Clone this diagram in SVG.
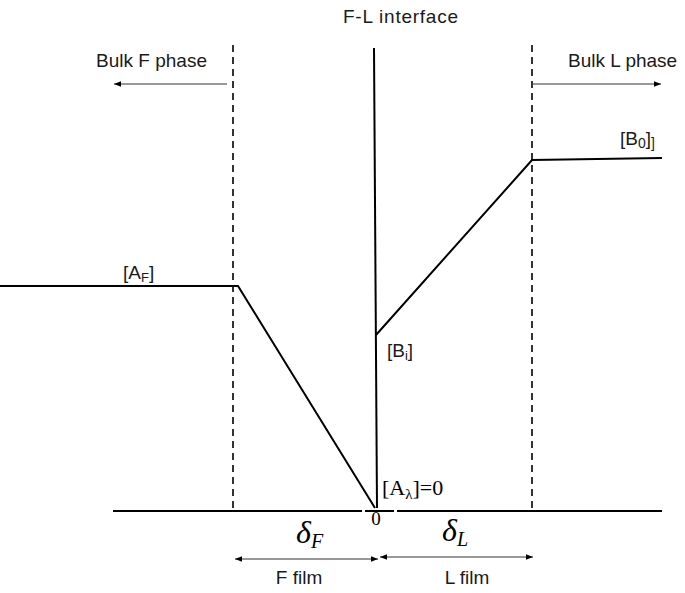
<svg xmlns="http://www.w3.org/2000/svg" width="685" height="593" viewBox="0 0 685 593">
<defs>
<marker id="ah" viewBox="0 0 10 10" refX="10" refY="5" markerWidth="8" markerHeight="7" markerUnits="userSpaceOnUse" orient="auto-start-reverse"><path d="M0,1 L10,5 L0,9 Z" fill="#000"/></marker>
<style>
.s{font-family:"Liberation Sans",Arial,sans-serif;font-size:19px;fill:#1a1a1a}
.r{font-family:"Liberation Serif","Times New Roman",serif;fill:#000}
.ln{stroke:#000;stroke-width:2;fill:none}
.d{stroke:#000;stroke-width:1.6;stroke-dasharray:7,5;fill:none}
.a{stroke:#333;stroke-width:1;fill:none}
</style>
</defs>
<rect width="685" height="593" fill="#fff"/>
<g id="connectors">
<line class="d" x1="233" y1="45" x2="233" y2="511"/>
<line class="d" x1="532" y1="45" x2="532" y2="511"/>
<line class="ln" x1="374" y1="48" x2="377" y2="508"/>
<path class="ln" d="M113,511 H362 M365,511 H394 M397,511 H662"/>
<path class="ln" d="M0,286 H238 L375,508"/>
<path class="ln" d="M376,335 L532,160 L662,158"/>
<line class="a" x1="227" y1="84" x2="114" y2="84" marker-end="url(#ah)"/>
<line class="a" x1="533" y1="84" x2="661" y2="84" marker-end="url(#ah)"/>
<line class="a" x1="235" y1="559" x2="378" y2="559" marker-start="url(#ah)" marker-end="url(#ah)"/>
<line class="a" x1="380" y1="557" x2="533" y2="557" marker-start="url(#ah)" marker-end="url(#ah)"/>
</g>
<g id="title"><text class="s" x="343" y="23" textLength="115">F-L interface</text></g>
<g id="bulkF"><text class="s" x="207" y="67" text-anchor="end">Bulk F phase</text></g>
<g id="bulkL"><text class="s" x="568" y="67">Bulk L phase</text></g>
<g id="AF"><text class="s" x="123" y="279">[A<tspan font-size="13" dy="3">F</tspan><tspan dy="-3">]</tspan></text></g>
<g id="Bi"><text class="s" x="387" y="357">[B<tspan font-size="13" dy="3">i</tspan><tspan dy="-3">]</tspan></text></g>
<g id="B0"><text class="s" x="620" y="145">[B<tspan font-size="14" dy="3">0</tspan><tspan dy="-3">]</tspan><tspan font-size="14" dy="3">]</tspan></text></g>
<g id="Alambda"><text class="r" x="382" y="495" font-size="22">[A<tspan font-size="15" dy="4">λ</tspan><tspan dy="-4">]=0</tspan></text></g>
<g id="zero"><text class="r" x="376" y="525" font-size="19" text-anchor="middle">0</text></g>
<g id="deltaF"><text class="r" x="296" y="543" font-size="32" font-style="italic">δ<tspan font-size="20" dy="5">F</tspan></text></g>
<g id="deltaL"><text class="r" x="442" y="541" font-size="32" font-style="italic">δ<tspan font-size="20" dy="5">L</tspan></text></g>
<g id="Ffilm"><text class="s" x="299" y="584" text-anchor="middle">F film</text></g>
<g id="Lfilm"><text class="s" x="467" y="584" text-anchor="middle">L film</text></g>
</svg>
